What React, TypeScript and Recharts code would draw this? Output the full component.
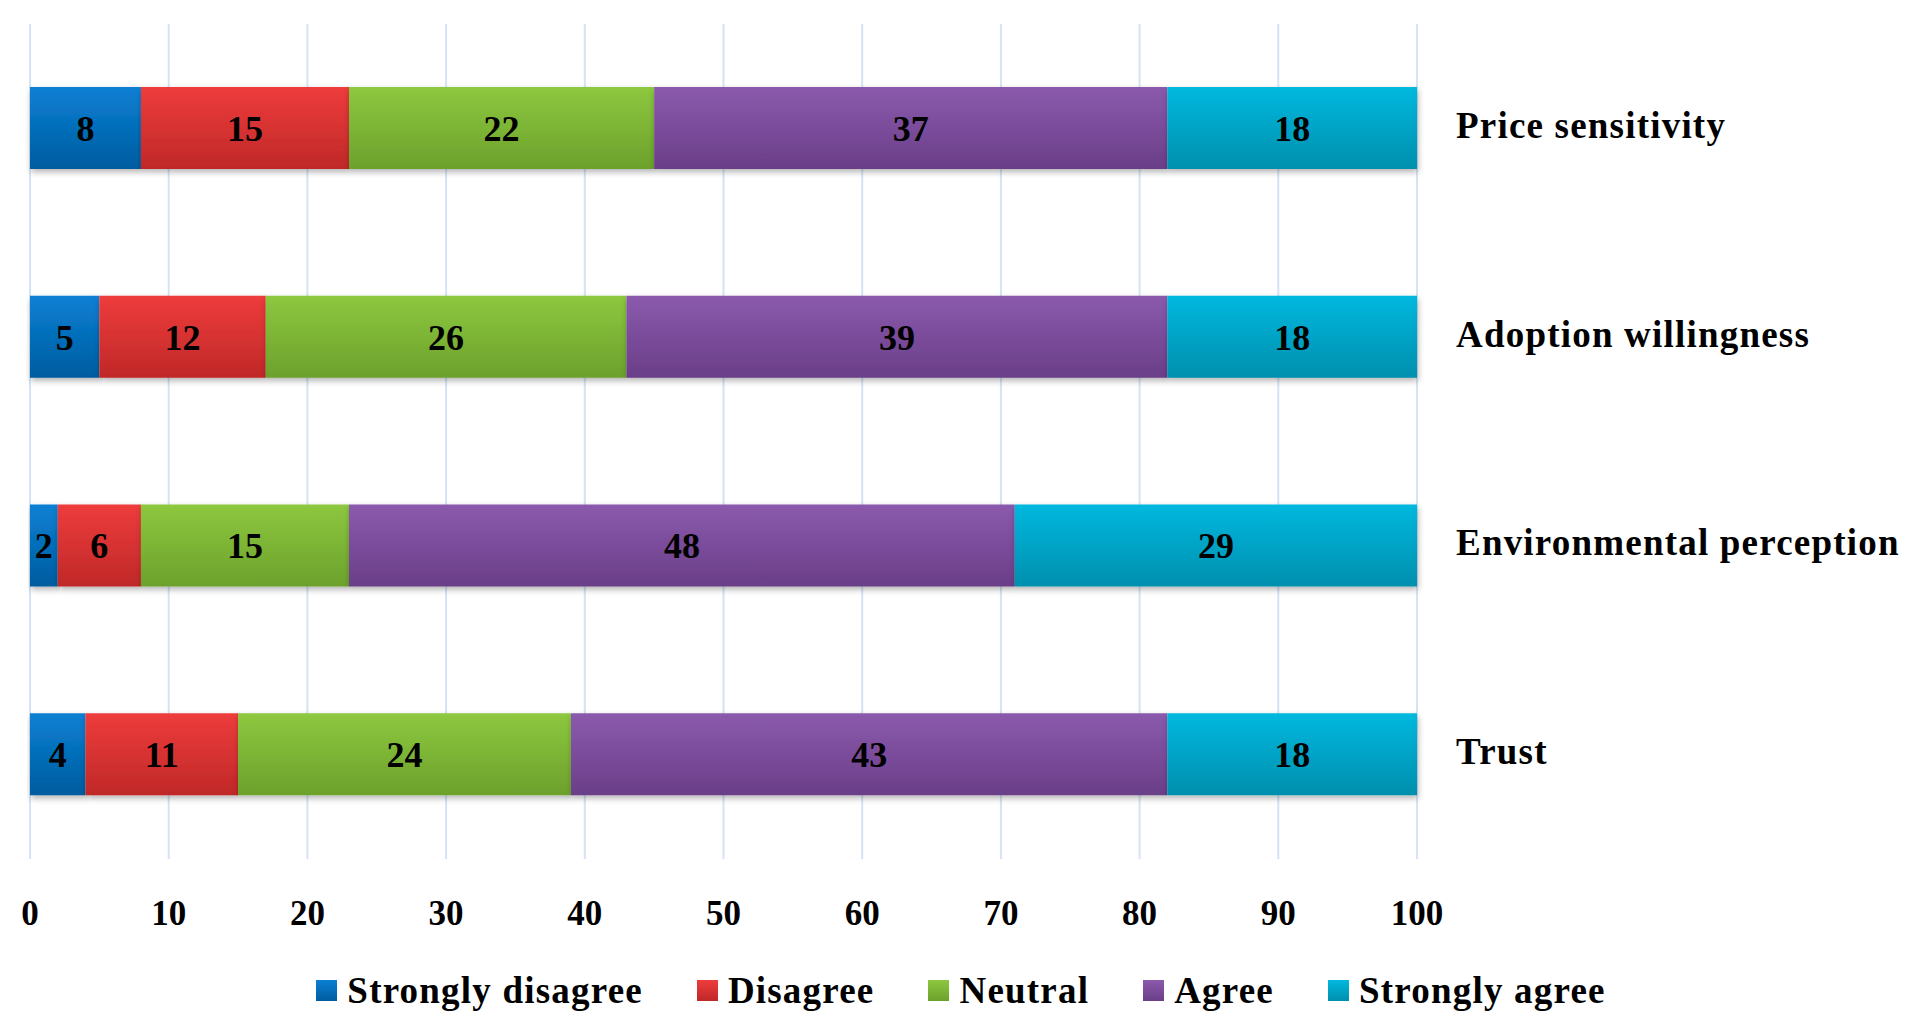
import { BarChart, Bar, XAxis, YAxis, CartesianGrid, LabelList } from "recharts";

const categories = [
  "Price sensitivity",
  "Adoption willingness",
  "Environmental perception",
  "Trust",
];
const stronglyDisagree = [8, 5, 2, 4];
const disagree = [15, 12, 6, 11];
const neutral = [22, 26, 15, 24];
const agree = [37, 39, 48, 43];
const stronglyAgree = [18, 18, 29, 18];
const xTicks = [0, 10, 20, 30, 40, 50, 60, 70, 80, 90, 100];

const FONT = '"Liberation Serif", "Times New Roman", serif';

const series = [
  { key: "sd", name: "Strongly disagree", values: stronglyDisagree, top: "#0A80D4", bottom: "#005C9F" },
  { key: "d", name: "Disagree", values: disagree, top: "#EE3C3C", bottom: "#C02828" },
  { key: "n", name: "Neutral", values: neutral, top: "#8DC83F", bottom: "#6CA12C" },
  { key: "a", name: "Agree", values: agree, top: "#8B5AAD", bottom: "#6A3E88" },
  { key: "sa", name: "Strongly agree", values: stronglyAgree, top: "#00B8DE", bottom: "#008FAE" },
];

const data = categories.map((name, i) => {
  const row: Record<string, string | number> = { name };
  series.forEach((s) => {
    row[s.key] = s.values[i];
  });
  return row;
});

const ShadowRect = (props: any) => {
  const { x, y, width, height, fill } = props;
  if (!width || width <= 0) return null;
  return <rect x={x} y={y} width={width} height={height} fill={fill} filter="url(#barShadow)" />;
};

// category names sit to the right of the bars, left-aligned
const CategoryTick = (props: any) => {
  const { x, y, payload } = props;
  return (
    <text
      x={x}
      y={y}
      dy={-3}
      dominantBaseline="central"
      textAnchor="start"
      fill="#000"
      fontFamily={FONT}
      fontWeight="bold"
      fontSize={37}
      letterSpacing={1.2}
    >
      {payload.value}
    </text>
  );
};

function ChartLegend() {
  return (
    <div
      style={{
        position: "absolute",
        left: 0,
        top: 964,
        width: 1906,
        height: 36,
        display: "flex",
        justifyContent: "center",
        alignItems: "center",
        gap: 54,
        fontFamily: FONT,
        fontWeight: "bold",
        fontSize: 37,
        letterSpacing: 1.2,
        color: "#000",
      }}
    >
      {series.map((s) => (
        <span key={s.key} style={{ display: "flex", alignItems: "center", gap: 10 }}>
          <span
            style={{
              width: 21,
              height: 21,
              background: `linear-gradient(${s.top}, ${s.bottom})`,
              display: "inline-block",
            }}
          />
          <span>{s.name}</span>
        </span>
      ))}
    </div>
  );
}

export default function App() {
  return (
    <div style={{ position: "relative", width: 1906, height: 1013, background: "#fff" }}>
      <BarChart
        width={1906}
        height={1013}
        data={data}
        layout="vertical"
        margin={{ top: 16, right: 17, left: 22, bottom: 102 }}
        barSize={82}
      >
        <defs>
          {series.map((s) => (
            <linearGradient key={s.key} id={`grad-${s.key}`} x1="0" y1="0" x2="0" y2="1">
              <stop offset="0%" stopColor={s.top} />
              <stop offset="100%" stopColor={s.bottom} />
            </linearGradient>
          ))}
          <filter id="barShadow" x="-5%" y="-20%" width="110%" height="150%">
            <feDropShadow dx="1" dy="3" stdDeviation="3" floodColor="#000" floodOpacity="0.3" />
          </filter>
        </defs>
        <CartesianGrid horizontal={false} stroke="#D2E4F5" strokeWidth={2} />
        <XAxis
          type="number"
          domain={[0, 100]}
          ticks={xTicks}
          axisLine={false}
          tickLine={false}
          tickSize={0}
          tickMargin={41}
          height={60}
          tick={{ fill: "#000", fontFamily: FONT, fontWeight: "bold", fontSize: 35 }}
        />
        <YAxis
          type="category"
          dataKey="name"
          orientation="right"
          width={480}
          axisLine={false}
          tickLine={false}
          tickSize={0}
          tickMargin={39}
          tick={<CategoryTick />}
        />
        {series.map((s) => (
          <Bar
            key={s.key}
            dataKey={s.key}
            name={s.name}
            stackId="total"
            fill={`url(#grad-${s.key})`}
            shape={<ShadowRect />}
            isAnimationActive={false}
          >
            <LabelList
              dataKey={s.key}
              position="center"
              fill="#000"
              fontFamily={FONT}
              fontWeight="bold"
              fontSize={36}
            />
          </Bar>
        ))}
      </BarChart>
      <ChartLegend />
    </div>
  );
}
